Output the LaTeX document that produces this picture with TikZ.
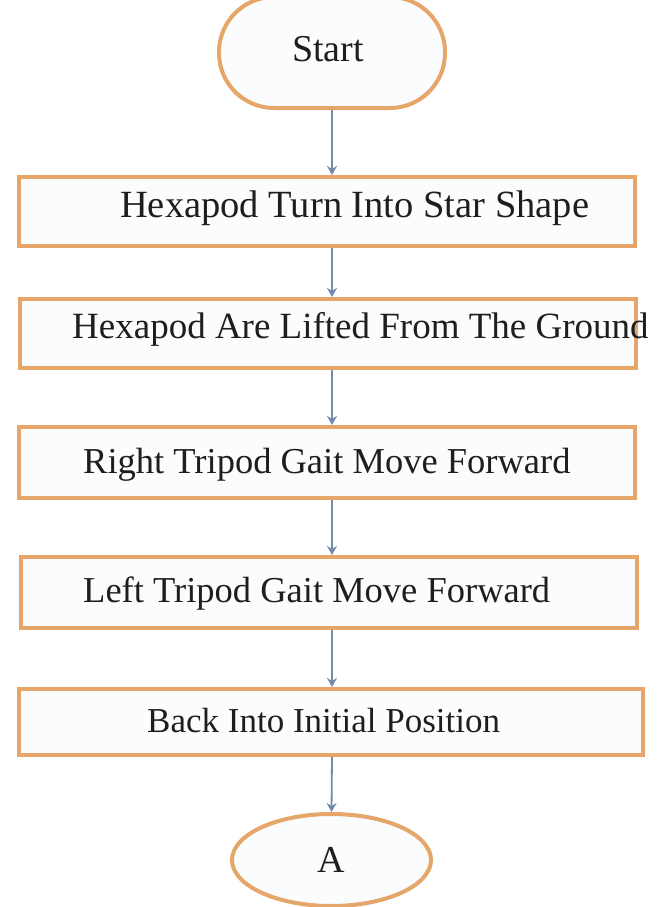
\documentclass[tikz,border=0pt]{standalone}
\usepackage{fontspec}
\setmainfont{Liberation Serif}
\usetikzlibrary{arrows.meta,shapes.geometric}
\definecolor{boxedge}{RGB}{230,165,105}
\definecolor{boxfill}{RGB}{250,252,254}
\definecolor{arrowblue}{RGB}{115,138,172}
\definecolor{inktext}{RGB}{30,30,30}
\begin{document}
\begin{tikzpicture}[x=1pt,y=-1pt,
  procbox/.style={draw=boxedge,fill=boxfill,line width=4pt,minimum width=616pt,inner sep=0pt},
  termbox/.style={draw=boxedge,fill=boxfill,line width=4pt,minimum width=226pt,minimum height=111pt,rounded corners=55pt,inner sep=0pt},
  endoval/.style={ellipse,draw=boxedge,fill=boxfill,line width=4pt,minimum width=199pt,minimum height=92pt,inner sep=0pt},
  boxtext/.style={anchor=base west,inner sep=0pt,text=inktext},
  flowarrow/.style={draw=arrowblue,line width=1.8pt,-{Stealth[length=9pt,width=10pt]}}]
\useasboundingbox (0,0) rectangle (664,907);
\fill[white] (0,0) rectangle (664,907);
\node[termbox] (start) at (332,52.5) {};
\node[boxtext,font=\fontsize{38}{40}\selectfont] (st) at (292,62) {Start};
\node[procbox,minimum height=69pt] (b1) at (327,211.5) {};
\node[procbox,minimum height=69pt] (b2) at (328,333.5) {};
\node[procbox,minimum height=71pt] (b3) at (327,462.5) {};
\node[procbox,minimum height=71pt] (b4) at (328.5,592.5) {};
\node[procbox,minimum width=624pt,minimum height=66pt] (b5) at (331,722) {};
\node[endoval,text=inktext,font=\fontsize{38}{40}\selectfont] (stop) at (331.5,860) {A};
\node[boxtext,font=\fontsize{38.5}{40}\selectfont] (t1) at (120,217) {Hexapod Turn Into Star Shape};
\node[boxtext,font=\fontsize{37}{40}\selectfont] (t2) at (72,338) {Hexapod Are Lifted From The Ground};
\node[boxtext,font=\fontsize{36.5}{40}\selectfont] (t3) at (83,473) {Right Tripod Gait Move Forward};
\node[boxtext,font=\fontsize{36.5}{40}\selectfont] (t4) at (83,602) {Left Tripod Gait Move Forward};
\node[boxtext,font=\fontsize{35}{40}\selectfont] (t5) at (147,732) {Back Into Initial Position};
\draw[flowarrow] (start.south) -- (start.south |- b1.north);
\draw[flowarrow] (start.south |- b1.south) -- (start.south |- b2.north);
\draw[flowarrow] (start.south |- b2.south) -- (start.south |- b3.north);
\draw[flowarrow] (start.south |- b3.south) -- (start.south |- b4.north);
\draw[flowarrow] (start.south |- b4.south) -- (start.south |- b5.north);
\draw[flowarrow] (start.south |- b5.south) -- (stop.north);
\end{tikzpicture}
\end{document}
